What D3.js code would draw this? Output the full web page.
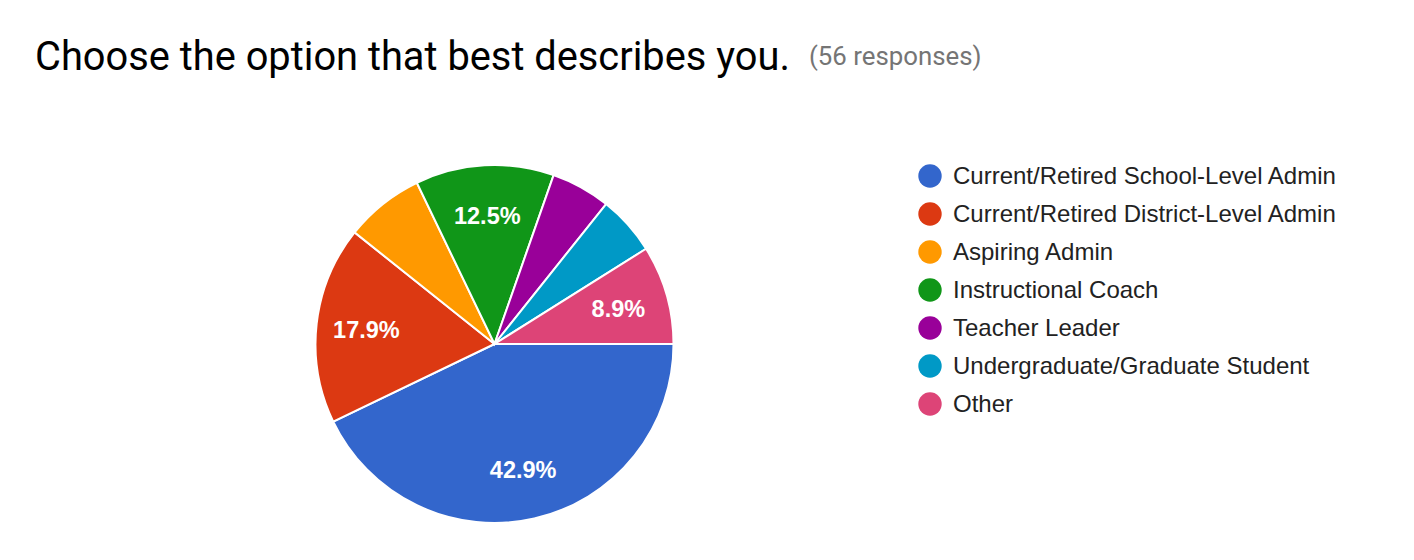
<!DOCTYPE html>
<html><head><meta charset="utf-8">
<script src="https://cdn.jsdelivr.net/npm/d3@7"></script>
<style>body{margin:0;background:#fff;}svg{display:block;}</style>
</head><body>
<svg id="c" width="1414" height="560"></svg>
<script>
const categories = ["Current/Retired School-Level Admin","Current/Retired District-Level Admin","Aspiring Admin","Instructional Coach","Teacher Leader","Undergraduate/Graduate Student","Other"];
const counts = [24, 10, 4, 7, 3, 3, 5];
const colors = ["#3366cc","#dc3912","#ff9900","#109618","#990099","#0099c6","#dd4477"];
const titleText = "Choose the option that best describes you.";
const subText = "(56 responses)";

const svg = d3.select("#c");
svg.append("text").attr("x",35).attr("y",70).attr("font-family","Roboto").attr("font-size",39.8).attr("fill","#000").text(titleText);
svg.append("text").attr("x",809).attr("y",65).attr("font-family","Roboto").attr("font-size",25.8).attr("fill","#757575").text(subText);

const cx=494.5, cy=344, R=179;
const total = d3.sum(counts);
const data = categories.map((c,i)=>({name:c,value:counts[i],color:colors[i]}));
const pie = d3.pie().value(d=>d.value).sort(null).startAngle(Math.PI/2).endAngle(Math.PI/2+2*Math.PI);
const arc = d3.arc().innerRadius(0).outerRadius(R);
const labelArc = d3.arc().innerRadius(R*0.72).outerRadius(R*0.72);
const g = svg.append("g").attr("transform",`translate(${cx},${cy})`);
const arcs = pie(data);
g.selectAll("path").data(arcs).join("path").attr("d",arc).attr("fill",d=>d.data.color).attr("stroke","#fff").attr("stroke-width",2);
g.selectAll("text").data(arcs.filter(d=>d.data.value/total>0.08)).join("text")
  .attr("transform",d=>`translate(${labelArc.centroid(d)})`)
  .attr("text-anchor","middle").attr("dy","0.36em")
  .attr("font-family","Liberation Sans, Arial").attr("font-weight","bold").attr("font-size",23.5).attr("fill","#fff")
  .text(d=>(d.data.value/total*100).toFixed(1)+"%");

const lg = svg.append("g");
const rows = lg.selectAll("g").data(data).join("g").attr("transform",(d,i)=>`translate(930,${176+i*38})`);
rows.append("circle").attr("r",11.7).attr("fill",d=>d.color);
rows.append("text").attr("x",23).attr("dy","0.33em").attr("font-family","Liberation Sans, Arial").attr("font-size",24).attr("fill","#222").text(d=>d.name);
</script>
</body></html>
